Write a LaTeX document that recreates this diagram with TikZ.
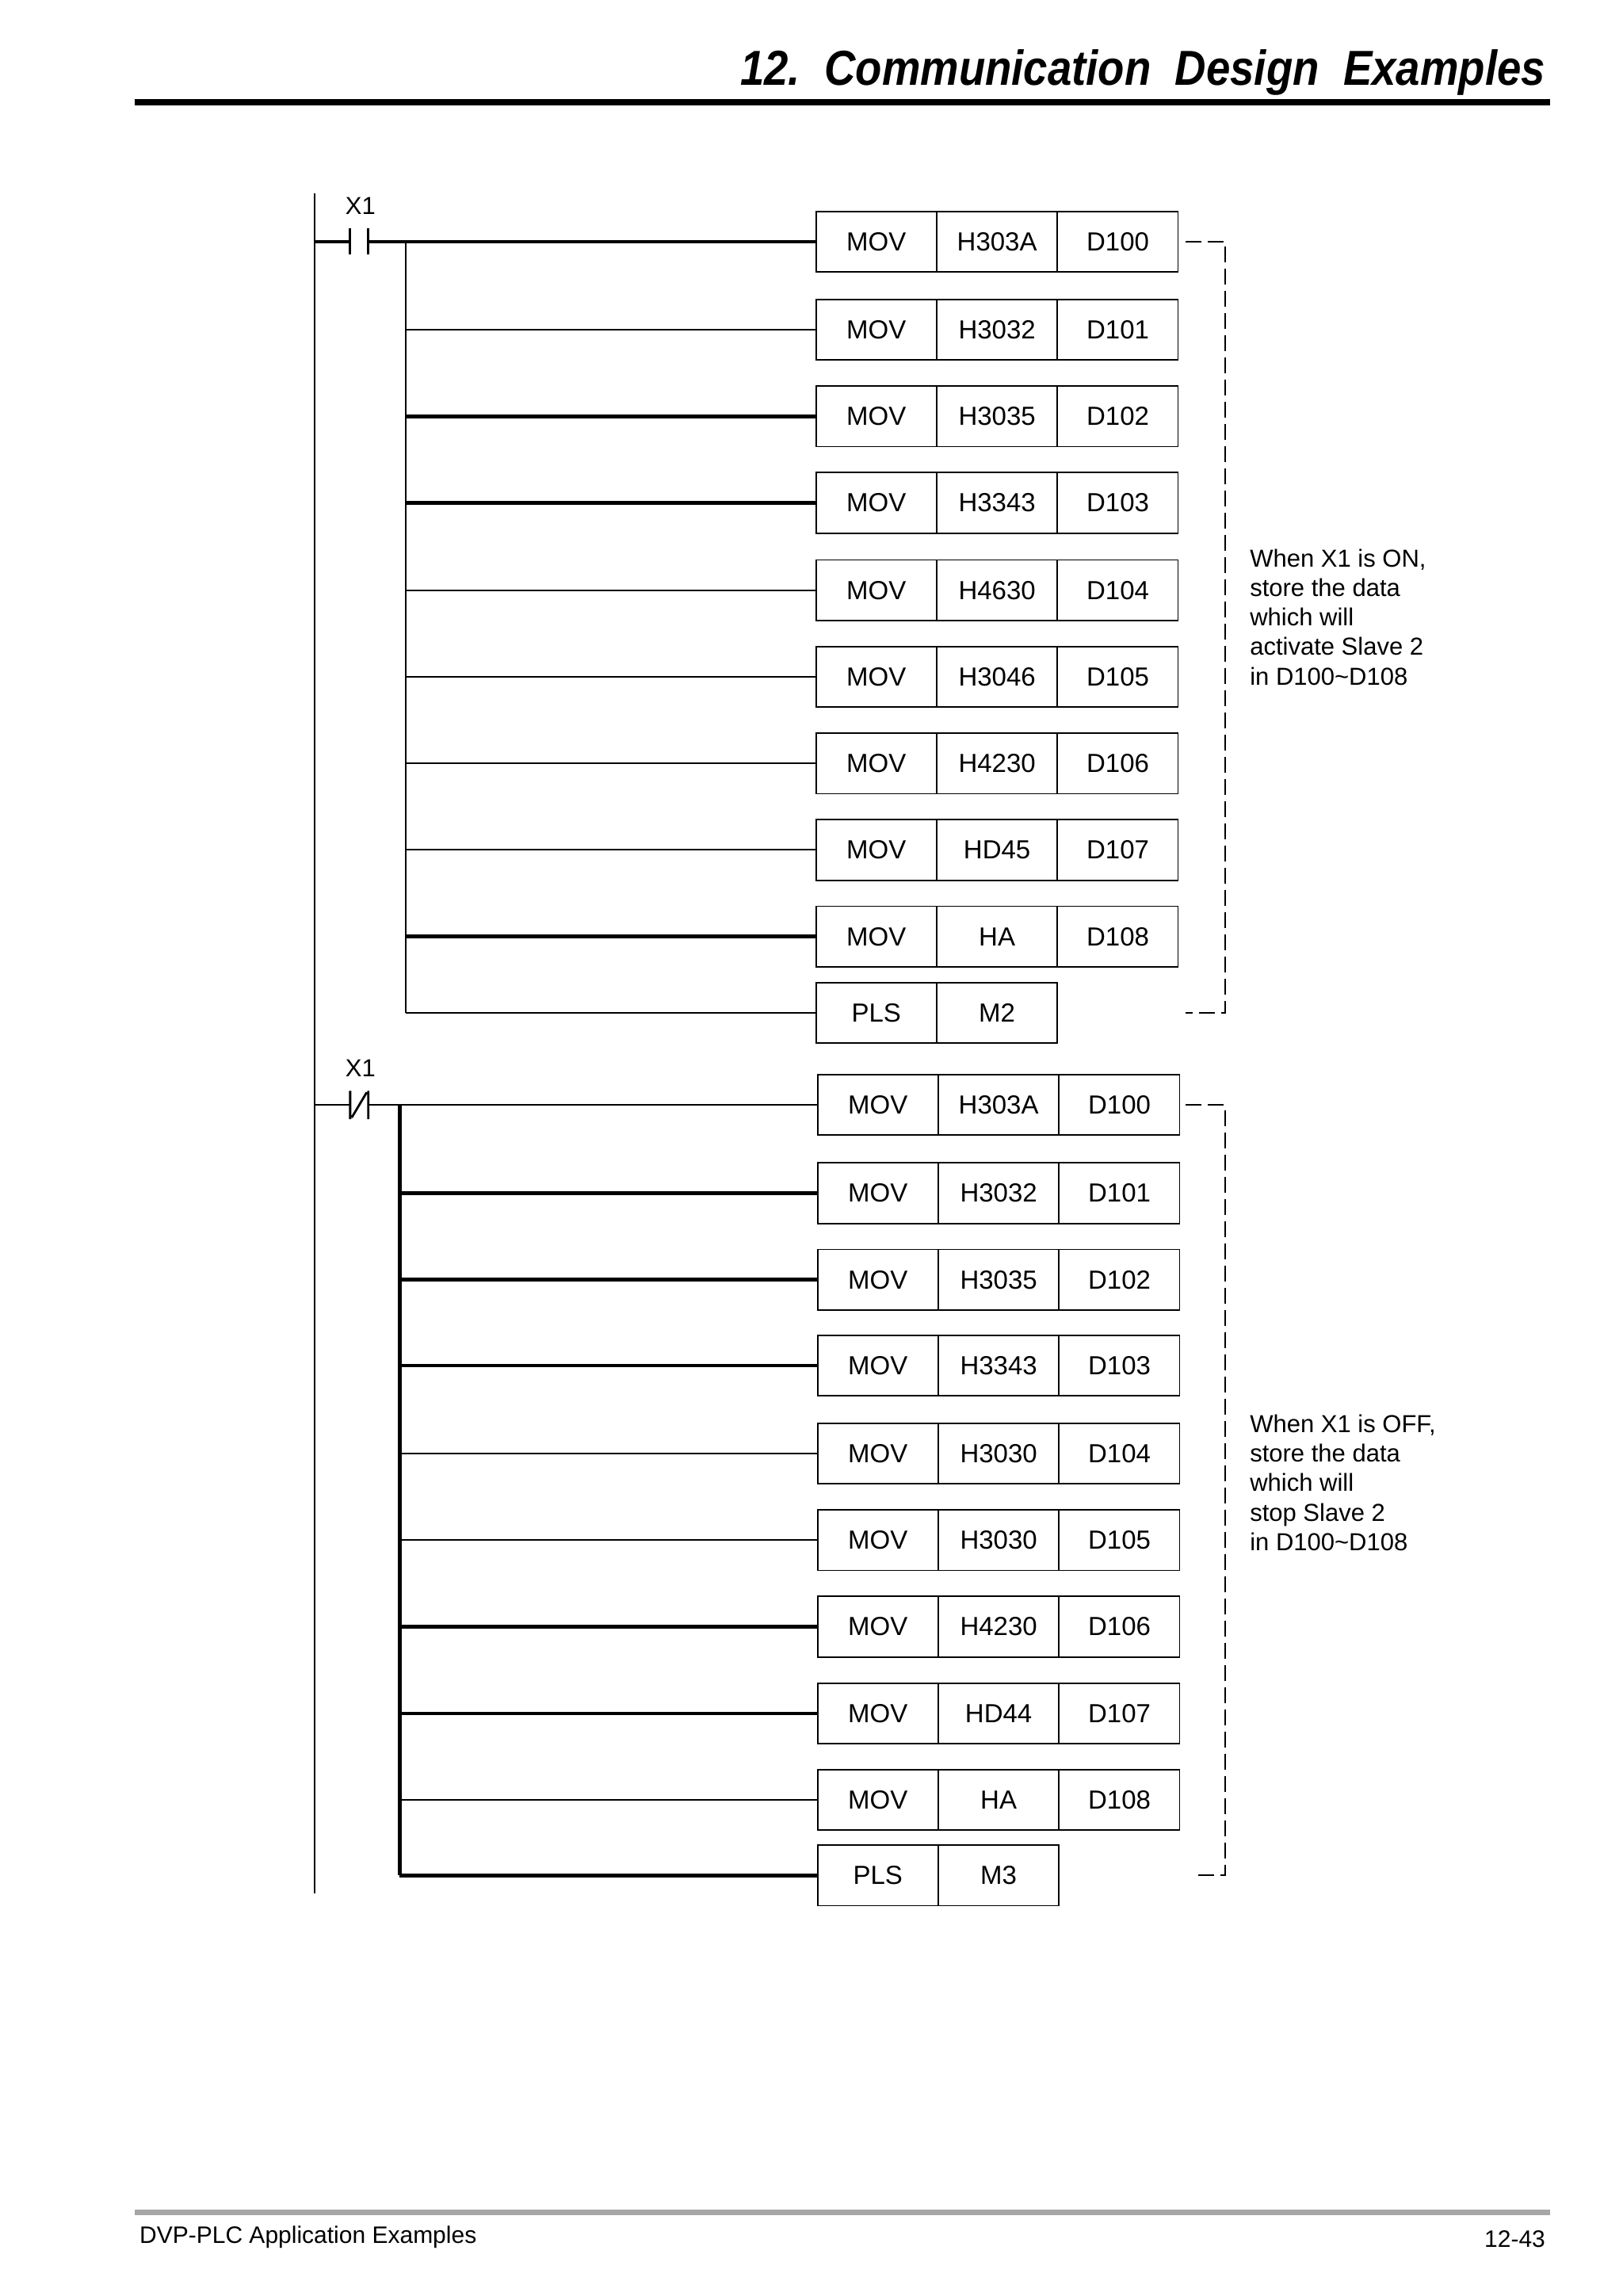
\documentclass[tikz,border=0pt]{standalone}
\usepackage{fontspec}
\setmainfont{Liberation Sans}
\begin{document}
\begin{tikzpicture}[x=0.4965pt,y=-0.4965pt,
  cell/.style={draw,line width=0.9pt,minimum width=76pt,minimum height=38.2pt,inner sep=0pt,font=\fontsize{16.5}{18}\selectfont},
  thin/.style={line width=1pt},
  thk/.style={line width=2.2pt},
  note/.style={anchor=west,align=left,font=\fontsize{15.5}{18.6}\selectfont,inner sep=0pt},
  brk/.style={line width=1.1pt,dash pattern=on 10pt off 4pt}]
\useasboundingbox (0,0) rectangle (2062.4,2917.4);
% header
\node[anchor=base east,inner sep=0pt,xscale=0.88,font=\fontsize{31}{34}\selectfont\bfseries\itshape] (title) at (1964,108) {12.\ \ Communication\ \ Design\ \ Examples};
\fill (171,126) rectangle (1970,134);
% footer
\fill[gray!70] (171,2808) rectangle (1970,2815);
\node[anchor=base west,inner sep=0pt,font=\fontsize{15}{18}\selectfont] (ft1) at (177,2850) {DVP-PLC Application Examples};
\node[anchor=base east,inner sep=0pt,font=\fontsize{15}{18}\selectfont] (ft2) at (1964,2855) {12-43};
% left rail
\draw[thin] (400,246) -- (400,2406);
% contacts
\node[font=\fontsize{15.5}{18}\selectfont] (x1a) at (458,262) {X1};
\node[font=\fontsize{15.5}{18}\selectfont] (x1b) at (458,1357) {X1};
\draw[thk] (400,307) -- (445,307) (468,307) -- (516,307);
\draw[line width=1.4pt] (445,290) -- (445,323) (468,290) -- (468,323);
\draw[thin] (400,1404) -- (445,1404) (468,1404) -- (508,1404);
\draw[line width=1.4pt] (445,1386) -- (445,1422) (468,1386) -- (468,1422) (447,1420) -- (466,1388);
% branches
\draw[thin] (516,307) -- (516,1287);
\draw[thk] (508,1404) -- (508,2383);
% block 1
\foreach \i/\y/\a/\b/\s in {1/307/H303A/D100/thk,2/419/H3032/D101/thin,3/529/H3035/D102/thk,4/639/H3343/D103/thk,5/750/H4630/D104/thin,6/860/H3046/D105/thin,7/970/H4230/D106/thin,8/1080/HD45/D107/thin,9/1190/HA/D108/thk}{
  \node[cell] (am\i) at (1113.5,\y) {MOV};
  \node[cell] (aa\i) at (1267,\y) {\a};
  \node[cell] (ab\i) at (1420.5,\y) {\b};
  \draw[\s] (516,\y) -- (am\i.west);
}
\node[cell] (apl) at (1113.5,1287) {PLS};
\node[cell] (apm) at (1267,1287) {M2};
\draw[thin] (516,1287) -- (apl.west);
% block 2
\foreach \i/\y/\a/\b/\s in {1/1404/H303A/D100/thin,2/1516/H3032/D101/thk,3/1626/H3035/D102/thk,4/1735/H3343/D103/thk,5/1847/H3030/D104/thin,6/1957/H3030/D105/thin,7/2067/H4230/D106/thk,8/2177/HD44/D107/thk,9/2287/HA/D108/thin}{
  \node[cell] (bm\i) at (1115.5,\y) {MOV};
  \node[cell] (ba\i) at (1269,\y) {\a};
  \node[cell] (bb\i) at (1422.5,\y) {\b};
  \draw[\s] (508,\y) -- (bm\i.west);
}
\node[cell] (bpl) at (1115.5,2383) {PLS};
\node[cell] (bpm) at (1269,2383) {M3};
\draw[thk] (508,2383) -- (bpl.west);
% brackets
\coordinate (c1) at (1557,307); \coordinate (c2) at (1557,1287);
\draw[brk] (1507,307) -- (c1) -- (c2) -- (1507,1287);
\coordinate (c3) at (1557,1404); \coordinate (c4) at (1557,2383);
\draw[brk] (1507,1404) -- (c3) -- (c4) -- (1520,2383);
% notes
\node[note] (n1) at (1588,784) {When X1 is ON,\\store the data\\which will\\activate Slave 2\\in D100\textasciitilde D108};
\node[note] (n2) at (1588,1884) {When X1 is OFF,\\store the data\\which will\\stop Slave 2\\in D100\textasciitilde D108};
\end{tikzpicture}
\end{document}
